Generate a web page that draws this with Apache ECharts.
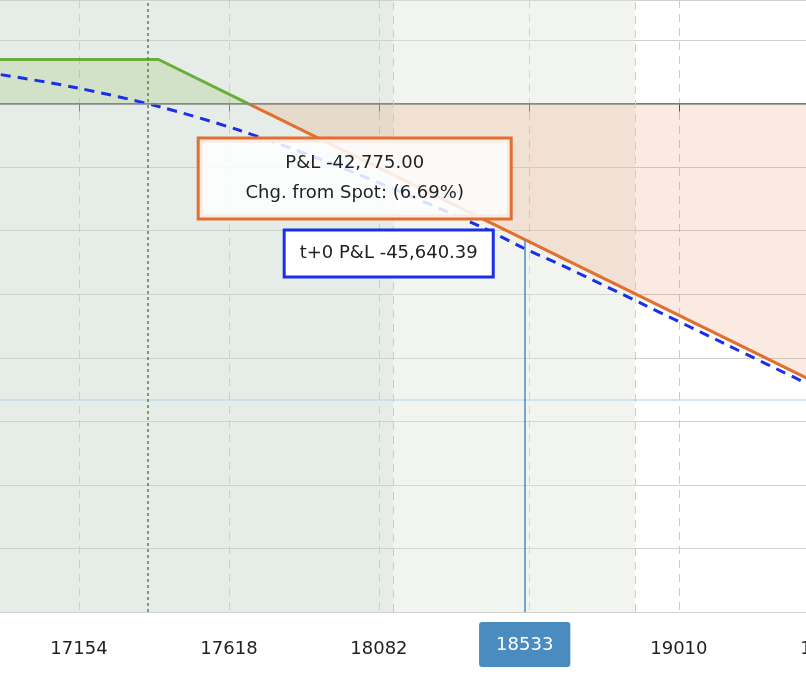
<!DOCTYPE html>
<html>
<head>
<meta charset="utf-8">
<script src="https://cdn.jsdelivr.net/npm/echarts@6/dist/echarts.min.js"></script>
<style>html,body{margin:0;padding:0;background:#fff}#chart{width:806px;height:686px}</style>
</head>
<body>
<div id="chart"></div>
<script>
// x values are stored as spot levels; the axis runs on (spot - OFF) so ticks land on 17154, 17618, ...
const OFF = 16690
const STEP = 464
const expiryProfit = [[16600, 13875], [17400, 13875], [17677.5, 0]]
const expiryLoss = [[17677.5, 0], [19600, -96125]]
const t0Pnl = [[16600, 13500], [16900, 9300], [17150, 4900], [17400, -900], [17650, -8400], [17900, -17500],
  [18150, -27800], [18400, -38900], [18533, -45640], [18650, -51000], [18900, -63200],
  [19150, -75500], [19400, -87800], [19600, -97600]]
const bandOne = [16600, 18126]
const bandTwo = [18126, 18874]
const markerLevel = 17367
const spot = 18533
const spotPnl = -42775
const spotT0 = -45640.39
const refLevel = -93200

const X = v => v - OFF
const font = 'DejaVu Sans'

let chart = echarts.init(document.getElementById('chart'))
chart.setOption({
  animation: false,
  grid: { left: -71, right: -60, top: 0, bottom: 74, outerBoundsMode: 'none', containLabel: false },
  xAxis: {
    type: 'value', min: 0, max: 2898.9, interval: STEP,
    axisLine: { lineStyle: { color: '#444', width: 1 } },
    axisTick: { length: 8, lineStyle: { color: '#444' } },
    axisLabel: { formatter: v => String(v + OFF), fontFamily: font, fontSize: 18, color: '#222', margin: 28,
      showMinLabel: true, showMaxLabel: false },
    splitLine: { show: true, lineStyle: { type: [8, 6], color: '#ccc' } },
    axisPointer: {
      show: true, status: 'show', value: X(spot), triggerTooltip: false,
      lineStyle: { opacity: 0 },
      label: { show: true, formatter: p => String(Math.round(p.value + OFF)), backgroundColor: '#4a8cbf',
        color: '#fff', fontFamily: font, fontSize: 18, padding: [14, 17, 13, 17], margin: 10 }
    }
  },
  yAxis: {
    type: 'value', min: -160000, max: 32598, interval: 20000,
    axisLabel: { show: false }, axisLine: { show: false }, axisTick: { show: false },
    splitLine: { lineStyle: { color: '#d0d0d0' } }
  },
  series: [
    {
      type: 'line', data: expiryProfit.map(d => [X(d[0]), d[1]]), symbol: 'none',
      lineStyle: { width: 3, color: '#6aae3a' }, areaStyle: { origin: 0, color: 'rgba(106,174,58,0.25)' }, z: 3,
      markArea: {
        silent: true,
        data: [
          [{ xAxis: X(bandOne[0]), itemStyle: { color: 'rgba(200,212,204,0.45)' } }, { xAxis: X(bandOne[1]) }],
          [{ xAxis: X(bandTwo[0]), itemStyle: { color: 'rgba(222,228,218,0.4)' } }, { xAxis: X(bandTwo[1]) }]
        ]
      },
      markLine: {
        silent: true, symbol: 'none', label: { show: false },
        data: [
          { yAxis: 0, lineStyle: { color: '#888', type: 'solid', width: 1.5 } },
          { yAxis: refLevel, lineStyle: { color: '#c8dcea', type: 'solid', width: 1.5 } },
          { xAxis: X(markerLevel), lineStyle: { color: '#4f8a3a', type: [3, 3], width: 1.5 } },
          { xAxis: X(bandOne[1]), lineStyle: { color: '#ccc', type: [8, 6], width: 1 } },
          { xAxis: X(bandTwo[1]), lineStyle: { color: '#ccc', type: [8, 6], width: 1 } }
        ]
      }
    },
    {
      type: 'line', data: expiryLoss.map(d => [X(d[0]), d[1]]), symbol: 'none',
      lineStyle: { width: 3, color: '#e07030' }, areaStyle: { origin: 0, color: 'rgba(230,120,60,0.22)' }, z: 3,
      markLine: {
        silent: true, symbol: 'none', label: { show: false },
        data: [
          [{ coord: [X(spot), -160000], lineStyle: { color: '#4a8cbf', type: 'solid', width: 1.5 } },
           { coord: [X(spot), spotPnl] }]
        ]
      },
      markPoint: {
        symbol: 'circle', symbolSize: 1, silent: true, itemStyle: { color: 'rgba(0,0,0,0)' },
        data: [{
          coord: [X(spot), spotPnl],
          label: {
            show: true, position: 'inside', offset: [-170, -61],
            formatter: 'P&L -42,775.00\nChg. from Spot: (6.69%)',
            fontFamily: font, fontSize: 18, color: '#222', lineHeight: 30, align: 'center',
            backgroundColor: 'rgba(255,255,255,0.85)', borderColor: '#e07030', borderWidth: 3,
            padding: [10, 16, 8, 16], width: 278
          }
        }]
      }
    },
    {
      type: 'line', data: t0Pnl.map(d => [X(d[0]), d[1]]), symbol: 'none', smooth: 0.3,
      lineStyle: { color: '#1a2fe8', width: 3, type: [10, 7] }, z: 4,
      markPoint: {
        symbol: 'circle', symbolSize: 1, silent: true, itemStyle: { color: 'rgba(0,0,0,0)' },
        data: [{
          coord: [X(spot), spotT0],
          label: {
            show: true, position: 'inside', offset: [-136, 5],
            formatter: 't+0 P&L ' + spotT0.toLocaleString('en-US', { minimumFractionDigits: 2 }),
            fontFamily: font, fontSize: 18, color: '#222',
            backgroundColor: '#fff', borderColor: '#1a2fe8', borderWidth: 3,
            padding: [14, 14, 12, 14]
          }
        }]
      }
    }
  ]
})
</script>
</body>
</html>
